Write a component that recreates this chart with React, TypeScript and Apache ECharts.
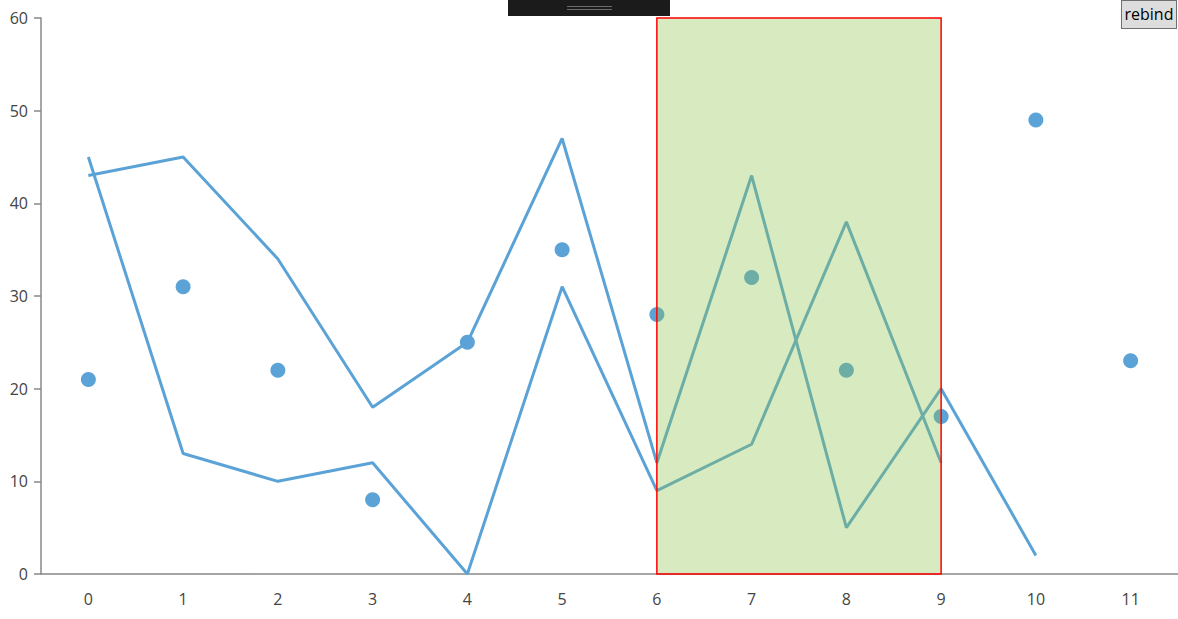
import React, { useRef, useEffect } from 'react';
import * as echarts from 'echarts';

const categories = ['0', '1', '2', '3', '4', '5', '6', '7', '8', '9', '10', '11'];
const lineA = [43, 45, 34, 18, 25, 47, 12, 43, 5, 20, 2];
const lineB = [45, 13, 10, 12, 0, 31, 9, 14, 38, 12];
const dots = [21, 31, 22, 8, 25, 35, 28, 32, 22, 17, 49, 23];
const bandFrom = '6';
const bandTo = '9';

const BLUE = '#5ba3d6';
const FONT = '"Segoe UI", "Open Sans", sans-serif';

const ChartPanel: React.FC = () => {
  const chartRef = useRef<HTMLDivElement>(null);

  useEffect(() => {
    if (!chartRef.current) return;
    const chart = echarts.init(chartRef.current, undefined, { renderer: 'svg' });

    const axisLabel = { fontSize: 16, color: '#444', fontFamily: FONT };

    const option: echarts.EChartsOption = {
      animation: false,
      grid: { left: 41, right: 0, top: 18, bottom: 45, containLabel: false },
      xAxis: {
        type: 'category',
        data: categories,
        boundaryGap: true,
        axisLine: { lineStyle: { color: '#888', width: 1.5 } },
        axisTick: { alignWithLabel: true, length: 6, lineStyle: { color: '#888', width: 1.5 } },
        axisLabel: { ...axisLabel, margin: 17 },
        splitLine: { show: false },
      },
      yAxis: {
        type: 'value',
        min: 0,
        max: 60,
        interval: 10,
        axisLine: { show: true, lineStyle: { color: '#888', width: 1.5 } },
        axisTick: { show: true, length: 7, lineStyle: { color: '#888', width: 1.5 } },
        axisLabel: { ...axisLabel, margin: 13 },
        splitLine: { show: false },
      },
      series: [
        {
          type: 'line',
          data: lineA,
          showSymbol: false,
          symbol: 'none',
          lineStyle: { color: BLUE, width: 3 },
          silent: true,
        },
        {
          type: 'line',
          data: lineB,
          showSymbol: false,
          symbol: 'none',
          lineStyle: { color: BLUE, width: 3 },
          silent: true,
        },
        {
          type: 'scatter',
          data: dots,
          symbolSize: 15,
          itemStyle: { color: BLUE, opacity: 1 },
          silent: true,
        },
        {
          type: 'line',
          data: [],
          z: 10,
          silent: true,
          markArea: {
            silent: true,
            z: 10,
            itemStyle: {
              color: 'rgba(139, 195, 74, 0.35)',
              borderColor: '#ff0000',
              borderWidth: 1.5,
            },
            data: [[{ xAxis: bandFrom, yAxis: 0 }, { xAxis: bandTo, yAxis: 60 }]],
          },
        },
      ],
    };

    chart.setOption(option);
    return () => {
      chart.dispose();
    };
  }, []);

  return <div ref={chartRef} style={{ position: 'absolute', left: 0, top: 0, width: 1178, height: 619 }} />;
};

export default function App() {
  return (
    <div style={{ position: 'fixed', left: 0, top: 0, width: 1178, height: 619, background: '#fff', overflow: 'hidden' }}>
      <ChartPanel />
      {/* drag handle bar at top */}
      <div
        style={{
          position: 'absolute',
          left: 508,
          top: 0,
          width: 162,
          height: 16,
          background: '#1b1b1b',
        }}
      >
        <div style={{ position: 'absolute', left: 59, top: 6, width: 45, height: 1, background: '#6a6a6a' }} />
        <div style={{ position: 'absolute', left: 59, top: 9, width: 45, height: 1, background: '#6a6a6a' }} />
      </div>
      <button
        style={{
          position: 'absolute',
          left: 1121,
          top: 0,
          width: 56,
          height: 29,
          padding: 0,
          margin: 0,
          background: '#dddddd',
          border: '1px solid #707070',
          borderRadius: 0,
          fontSize: 16,
          fontFamily: FONT,
          color: '#000',
          lineHeight: '27px',
        }}
      >
        rebind
      </button>
    </div>
  );
}
